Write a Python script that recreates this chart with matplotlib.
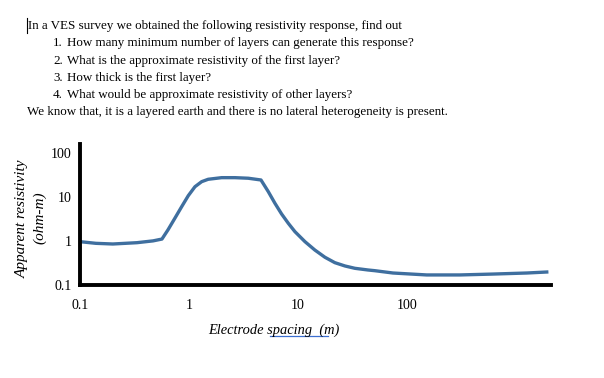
import matplotlib
matplotlib.use("Agg")
import matplotlib.pyplot as plt
from matplotlib.lines import Line2D

# VES curve (spacing in m, apparent resistivity in ohm-m)
spacing = [0.1, 0.14, 0.2, 0.333, 0.468, 0.565, 0.641, 0.745, 0.857, 0.986, 1.135,
           1.308, 1.50, 1.995, 2.64, 3.50, 4.58, 5.34, 6.15, 7.08, 8.15, 9.38, 11.6,
           14.3, 17.7, 21.8, 27.0, 33.3, 43.9, 50.8, 74.5, 152, 306, 615, 1260, 1920]
rho_app = [0.96, 0.88, 0.85, 0.91, 1.0, 1.10, 1.77, 3.31, 5.96, 10.6, 16.9,
           22.0, 24.9, 27.1, 27.1, 26.3, 24.0, 13.1, 7.12, 4.07, 2.51, 1.62, 0.96,
           0.62, 0.425, 0.321, 0.270, 0.239, 0.219, 0.211, 0.187, 0.169, 0.169, 0.177, 0.187, 0.197]

x_ticks = [0.1, 1, 10, 100]
x_tick_labels = ["0.1", "1", "10", "100"]
y_ticks = [0.1, 1, 10, 100]
y_tick_labels = ["0.1", "1", "10", "100"]

intro = "In a VES survey we obtained the following resistivity response, find out"
questions = [
    "How many minimum number of layers can generate this response?",
    "What is the approximate resistivity of the first layer?",
    "How thick is the first layer?",
    "What would be approximate resistivity of other layers?",
]
outro = "We know that, it is a layered earth and there is no lateral heterogeneity is present."

W, H = 604, 378
plt.rcParams["font.family"] = ["Liberation Serif", "DejaVu Serif"]

fig = plt.figure(figsize=(W / 100, H / 100), dpi=100)


def fx(px):
    return px / W


def fy(py):
    return 1 - py / H


# question text above the chart
fs_text = 9.4
fig.text(fx(28), fy(25.7), intro, fontsize=fs_text, va="center", ha="left")
line_y = [42.7, 61, 78.3, 95]
for i, (q, yy) in enumerate(zip(questions, line_y)):
    fig.text(fx(53), fy(yy), f"{i + 1}.", fontsize=fs_text, va="center", ha="left")
    fig.text(fx(67), fy(yy), q, fontsize=fs_text, va="center", ha="left")
fig.text(fx(27), fy(111.7), outro, fontsize=fs_text, va="center", ha="left")
# text cursor
fig.add_artist(Line2D([fx(27), fx(27)], [fy(18), fy(33)], color="black", lw=0.8))

# chart
ax = fig.add_axes([fx(80), fy(285), fx(551) - fx(80), fy(144) - fy(285)])
ax.plot(spacing, rho_app, color="#3F6F9F", lw=2.4, solid_joinstyle="round")
ax.set_xscale("log")
ax.set_yscale("log")
ax.set_xlim(0.1, 2100)
ax.set_ylim(0.1, 157)
ax.set_xticks(x_ticks, x_tick_labels)
ax.set_yticks(y_ticks, y_tick_labels)
ax.minorticks_off()
ax.tick_params(length=0, labelsize=10)
ax.tick_params(axis="x", pad=10)
ax.tick_params(axis="y", pad=6)
for s in ["top", "right"]:
    ax.spines[s].set_visible(False)
for s in ["left", "bottom"]:
    ax.spines[s].set_linewidth(2.8)
    ax.spines[s].set_capstyle("projecting")

fig.text(fx(22), fy(219), "Apparent resistivity", rotation=90, style="italic",
         fontsize=11, va="center", ha="center")
fig.text(fx(40), fy(218), "(ohm-m)", rotation=90, style="italic",
         fontsize=11, va="center", ha="center")
fig.text(fx(208), fy(330), "Electrode spacing  (m)", style="italic",
         fontsize=10.4, va="center", ha="left")
# spell-check underline under "spacing"
fig.add_artist(Line2D([fx(270), fx(328)], [fy(336), fy(336)], color="#3C6FD0", lw=0.9))

fig.savefig("out.png", dpi=100)
